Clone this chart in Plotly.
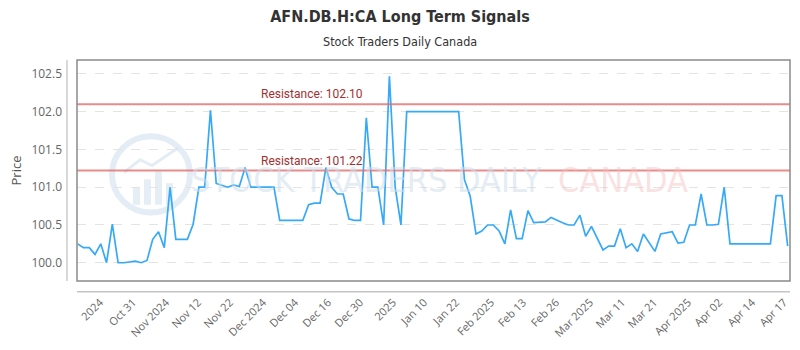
import plotly.graph_objects as go

# ---- data ----
prices = [
    100.25, 100.20, 100.20, 100.11, 100.25, 100.00, 100.51, 100.00, 100.00, 100.01,
    100.02, 100.00, 100.03, 100.31, 100.41, 100.20, 101.00, 100.31, 100.31, 100.31,
    100.51, 101.00, 101.00, 102.02, 101.05, 101.03, 101.00, 101.03, 101.01, 101.26,
    101.00, 101.00, 101.00, 101.00, 101.00, 100.56, 100.56, 100.56, 100.56, 100.56,
    100.77, 100.79, 100.79, 101.26, 101.00, 100.91, 100.91, 100.58, 100.56, 100.56,
    101.92, 101.00, 101.00, 100.50, 102.47, 101.00, 100.50, 102.00, 102.00, 102.00,
    102.00, 102.00, 102.00, 102.00, 102.00, 102.00, 102.00, 101.10, 100.88, 100.38,
    100.42, 100.50, 100.50, 100.42, 100.25, 100.70, 100.32, 100.32, 100.69, 100.53,
    100.53, 100.54, 100.60, 100.56, 100.53, 100.50, 100.50, 100.63, 100.35, 100.48,
    100.33, 100.17, 100.22, 100.22, 100.45, 100.20, 100.25, 100.15, 100.38, 100.26,
    100.15, 100.38, 100.39, 100.41, 100.26, 100.27, 100.50, 100.50, 100.91, 100.50,
    100.50, 100.51, 101.00, 100.25, 100.25, 100.25, 100.25, 100.26, 100.25, 100.25,
    100.25, 100.89, 100.89, 100.22,
]
x_index = list(range(len(prices)))

tick_labels = ["2024", "Oct 31", "Nov 2024", "Nov 12", "Nov 22", "Dec 2024", "Dec 04",
               "Dec 16", "Dec 30", "2025", "Jan 10", "Jan 22", "Feb 2025", "Feb 13",
               "Feb 26", "Mar 2025", "Mar 11", "Mar 21", "Apr 2025", "Apr 02",
               "Apr 14", "Apr 17"]
tick_positions = [3.86, 9.58, 15.30, 20.84, 26.39, 32.11, 37.65, 43.37, 48.91, 54.63,
                  60.00, 65.54, 71.60, 77.15, 82.86, 88.75, 94.30, 99.84, 105.73,
                  111.10, 116.82, 122.37]

resistance_levels = [102.10, 101.22]
resistance_labels = ["Resistance: 102.10", "Resistance: 101.22"]

title_text = "AFN.DB.H:CA Long Term Signals"
subtitle_text = "Stock Traders Daily Canada"

# ---- layout geometry (pixels) ----
W, H = 800, 350
L, R, T, B = 77, 10, 60, 64
PW, PH = W - L - R, H - T - B

NARROW = "Liberation Sans Narrow, DejaVu Sans Condensed, Roboto"


def px(xp):
    return (xp - L) / PW


def py(yp):
    return (H - B - yp) / PH


fig = go.Figure()

fig.add_trace(go.Scatter(
    x=x_index, y=prices, mode="lines",
    line=dict(color="#36a9f7", width=1.7),
    hoverinfo="skip", showlegend=False,
))

shapes = []
annotations = []

# watermark logo (decorative)
cx, cy, r = 151, 177, 39
shapes.append(dict(type="circle", xref="paper", yref="paper",
                   x0=px(cx - r), x1=px(cx + r), y0=py(cy + r), y1=py(cy - r),
                   line=dict(color="rgba(205,222,236,0.55)", width=6), layer="below"))
for bx, btop in [(133, 190), (144, 182), (155, 174), (166, 186)]:
    shapes.append(dict(type="rect", xref="paper", yref="paper",
                       x0=px(bx), x1=px(bx + 7), y0=py(208), y1=py(btop),
                       fillcolor="rgba(205,222,236,0.5)", line=dict(width=0), layer="below"))
shapes.append(dict(type="path", xref="paper", yref="paper",
                   path=f"M {px(124)},{py(175)} L {px(140)},{py(162)} L {px(152)},{py(168)} L {px(178)},{py(150)}",
                   line=dict(color="rgba(205,222,236,0.55)", width=3), layer="below"))

annotations.append(dict(xref="paper", yref="paper", x=px(189), y=py(183),
                        xanchor="left", yanchor="middle", showarrow=False,
                        text="STOCK TRADERS DAILY",
                        font=dict(family=NARROW, size=34,
                                  color="rgba(205,222,236,0.55)")))
annotations.append(dict(xref="paper", yref="paper", x=px(556), y=py(183),
                        xanchor="left", yanchor="middle", showarrow=False,
                        text="CANADA",
                        font=dict(family=NARROW, size=34,
                                  color="rgba(245,190,190,0.45)")))

# resistance lines
for lvl, lab in zip(resistance_levels, resistance_labels):
    shapes.append(dict(type="line", xref="paper", yref="y", x0=0, x1=1, y0=lvl, y1=lvl,
                       line=dict(color="rgba(226,110,110,0.8)", width=2)))
    annotations.append(dict(xref="paper", yref="y", x=px(259), y=lvl,
                            xanchor="left", yanchor="bottom", yshift=1, showarrow=False,
                            text=lab, font=dict(family="Roboto", size=12, color="#a3302f")))

# frame
shapes.append(dict(type="rect", xref="paper", yref="paper", x0=0, x1=1, y0=0, y1=1,
                   line=dict(color="#8a8a8a", width=1.5)))
# offset axis lines
shapes.append(dict(type="line", xref="paper", yref="paper", x0=px(67), x1=px(67),
                   y0=0, y1=1, line=dict(color="#c4c4c4", width=1.3)))
shapes.append(dict(type="line", xref="paper", yref="paper", x0=0, x1=1,
                   y0=py(297), y1=py(297), line=dict(color="#c4c4c4", width=1.3)))

# subtitle
annotations.append(dict(xref="paper", yref="paper", x=px(400), y=py(41),
                        xanchor="center", yanchor="middle", showarrow=False,
                        text=subtitle_text,
                        font=dict(family=NARROW, size=12.5, color="#333")))

fig.update_layout(
    width=W, height=H,
    margin=dict(l=L, r=R, t=T, b=B),
    paper_bgcolor="white", plot_bgcolor="white",
    title=dict(text=f"<b>{title_text}</b>", x=0.5, xref="container", xanchor="center",
               y=1 - 16 / H, yref="container", yanchor="middle",
               font=dict(family=NARROW, size=16, color="#333")),
    shapes=shapes, annotations=annotations,
    xaxis=dict(range=[-0.12, 123.4], showgrid=False, zeroline=False, showline=False,
               tickmode="array", tickvals=tick_positions, ticktext=tick_labels,
               tickangle=-45, ticks="", ticklabelstandoff=12,
               tickfont=dict(family="Open Sans", size=11, color="#666")),
    yaxis=dict(range=[99.758, 102.685], showgrid=True, gridcolor="#e4e4e4", griddash="dash",
               gridwidth=1, zeroline=False, showline=False, ticks="",
               tickvals=[100.0, 100.5, 101.0, 101.5, 102.0, 102.5],
               ticktext=["100.0", "100.5", "101.0", "101.5", "102.0", "102.5"],
               ticklabelstandoff=14,
               tickfont=dict(family="Open Sans", size=12, color="#666"),
               title=dict(text="Price", standoff=6,
                          font=dict(family="Open Sans", size=13, color="#555"))),
)

fig.write_html("out.html")
